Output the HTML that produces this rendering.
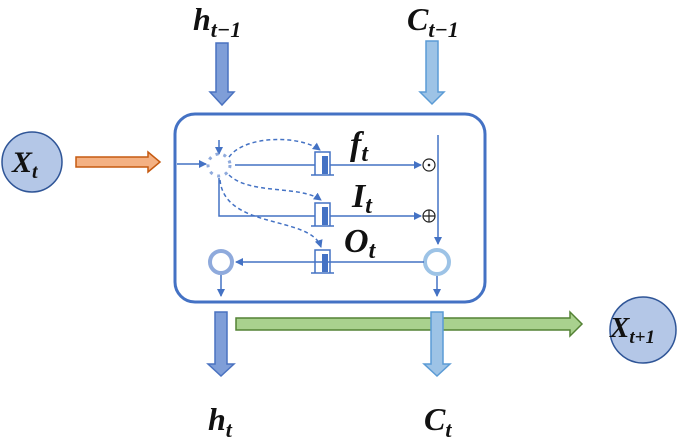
<!DOCTYPE html>
<html><head><meta charset="utf-8"><style>
html,body{margin:0;padding:0;background:#fff;}
svg{display:block;}
text{font-family:"Liberation Serif",serif;font-weight:bold;font-style:italic;fill:#111;}
</style></head><body>
<svg width="685" height="445" viewBox="0 0 685 445" xmlns="http://www.w3.org/2000/svg">
<defs>
<marker id="ah" markerWidth="8" markerHeight="8" refX="7" refY="4" orient="auto" markerUnits="userSpaceOnUse"><path d="M0,0 L8,4 L0,8 z" fill="#4472C4"/></marker>
</defs>
<text x="193" y="30" font-size="32">h<tspan font-size="22" dy="7">t−1</tspan></text>
<text x="407" y="30" font-size="32">C<tspan font-size="22" dy="7">t−1</tspan></text>
<path d="M216,43 H228 V92 H234 L222,105 L210,92 H216 Z" fill="#7F9ED8" stroke="#4A72C0" stroke-width="1.5"/>
<path d="M426,41 H438 V92 H444 L432,104 L420,92 H426 Z" fill="#9DC3E6" stroke="#5B9BD5" stroke-width="1.5"/>
<rect x="175" y="114" width="310" height="188" rx="20" fill="none" stroke="#4472C4" stroke-width="3"/>
<circle cx="32" cy="162" r="30" fill="#B4C7E7" stroke="#2F5597" stroke-width="1.5"/>
<text x="12" y="172" font-size="30">X<tspan font-size="20" dy="6">t</tspan></text>
<path d="M76,157 H148 V152 L160,162 L148,172 V167 H76 Z" fill="#F4B183" stroke="#C55A11" stroke-width="1.5"/>
<line x1="177" y1="164" x2="206" y2="164" stroke="#4472C4" stroke-width="1.5" marker-end="url(#ah)"/>
<line x1="219" y1="140" x2="219" y2="154" stroke="#4472C4" stroke-width="1.5" marker-end="url(#ah)"/>
<circle cx="219" cy="165" r="11" fill="none" stroke="#8FAADC" stroke-width="3" stroke-dasharray="3,5"/>
<line x1="235" y1="165" x2="421" y2="165" stroke="#4472C4" stroke-width="1.5" marker-end="url(#ah)"/>
<polyline points="219,178 219,216 421,216" fill="none" stroke="#4472C4" stroke-width="1.5" marker-end="url(#ah)"/>
<path d="M229,157 C245,135 300,135 320,150" fill="none" stroke="#4472C4" stroke-width="1.5" stroke-dasharray="4,3" marker-end="url(#ah)"/>
<path d="M229,175 C250,195 300,185 321,200" fill="none" stroke="#4472C4" stroke-width="1.5" stroke-dasharray="4,3" marker-end="url(#ah)"/>
<path d="M220,180 C225,230 310,215 321,247" fill="none" stroke="#4472C4" stroke-width="1.5" stroke-dasharray="4,3" marker-end="url(#ah)"/>
<g fill="#fff" stroke="#4472C4" stroke-width="1.5">
<path d="M315,175 V152 H330 V175 M311,175 H334"/>
<path d="M315,226 V203 H330 V226 M311,226 H334"/>
<path d="M315,273 V250 H330 V273 M311,273 H334"/>
</g>
<rect x="322" y="156" width="6" height="18" fill="#4472C4"/>
<rect x="322" y="207" width="6" height="18" fill="#4472C4"/>
<rect x="322" y="254" width="6" height="18" fill="#4472C4"/>
<text x="350" y="155" font-size="34">f<tspan font-size="24" dy="6">t</tspan></text>
<text x="352" y="207" font-size="34">I<tspan font-size="24" dy="6">t</tspan></text>
<text x="344" y="252" font-size="34">O<tspan font-size="24" dy="6">t</tspan></text>
<circle cx="429" cy="165" r="6" fill="#fff" stroke="#222" stroke-width="1.2"/>
<circle cx="429" cy="165" r="1.3" fill="#222"/>
<circle cx="429" cy="216" r="6" fill="#fff" stroke="#222" stroke-width="1.2"/>
<path d="M423,216 H435 M429,210 V222" stroke="#222" stroke-width="1.2"/>
<line x1="438" y1="135" x2="438" y2="244" stroke="#4472C4" stroke-width="1.5" marker-end="url(#ah)"/>
<circle cx="437" cy="262" r="12" fill="#fff" stroke="#9DC3E6" stroke-width="4"/>
<line x1="424" y1="262" x2="236" y2="262" stroke="#4472C4" stroke-width="1.5" marker-end="url(#ah)"/>
<circle cx="221" cy="262" r="11" fill="#fff" stroke="#8FAADC" stroke-width="4"/>
<line x1="221" y1="275" x2="221" y2="296" stroke="#4472C4" stroke-width="1.5" marker-end="url(#ah)"/>
<line x1="437" y1="276" x2="437" y2="296" stroke="#4472C4" stroke-width="1.5" marker-end="url(#ah)"/>
<path d="M215,312 H227 V364 H234 L221,376 L208,364 H215 Z" fill="#7F9ED8" stroke="#4A72C0" stroke-width="1.5"/>
<path d="M236,318 H570 V312 L582,324 L570,336 V330 H236 Z" fill="#A9D18E" stroke="#548235" stroke-width="1.5"/>
<path d="M431,312 H443 V364 H450 L437,376 L424,364 H431 Z" fill="#9DC3E6" stroke="#5B9BD5" stroke-width="1.5"/>
<circle cx="643" cy="330" r="33" fill="#B4C7E7" stroke="#2F5597" stroke-width="1.5"/>
<text x="610" y="337" font-size="29">X<tspan font-size="19" dy="6">t+1</tspan></text>
<text x="208" y="430" font-size="32">h<tspan font-size="22" dy="7">t</tspan></text>
<text x="424" y="430" font-size="32">C<tspan font-size="22" dy="7">t</tspan></text>
</svg>
</body></html>
